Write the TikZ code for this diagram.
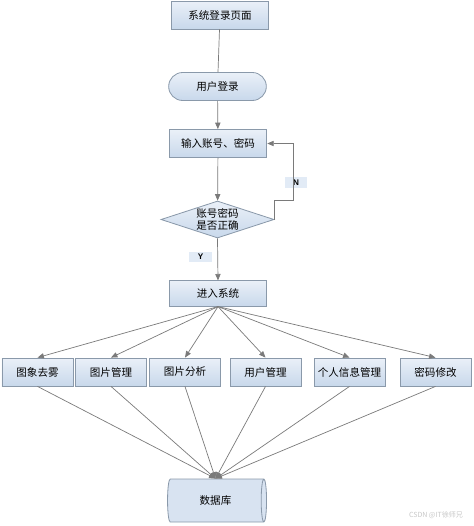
\documentclass[tikz,border=0pt]{standalone}
\usepackage{fontspec}
\setmainfont{Noto Sans CJK SC}
\newfontfamily\latinfont{Liberation Sans}
\usepackage{tikz}
\usetikzlibrary{arrows.meta,shapes.geometric,positioning}
\definecolor{boxline}{HTML}{8A99AA}
\definecolor{boxtop}{HTML}{EAF0F8}
\definecolor{boxbottom}{HTML}{C8D8EB}
\definecolor{boxmid}{HTML}{D8E3F1}
\definecolor{wire}{HTML}{7A7A7A}
\definecolor{tagfill}{HTML}{E2EBF6}

\begin{document}
\begin{tikzpicture}[x=0.03cm,y=0.03cm,>={Triangle[length=5.5pt,width=4.5pt]}]
\tikzstyle{every node}=[font=\fontsize{9}{11}\selectfont]
\tikzstyle{box}=[draw=boxline,line width=0.7pt,top color=boxtop,bottom color=boxbottom,
  minimum width=2.93cm,minimum height=0.84cm,inner sep=0pt]
\tikzstyle{smallbox}=[box,minimum width=2.13cm]
\tikzstyle{decision}=[diamond,draw=boxline,line width=0.7pt,top color=boxtop,bottom color=boxbottom,
  minimum width=3.39cm,minimum height=1.11cm,inner sep=0pt]
\tikzstyle{store}=[cylinder,shape border rotate=0,shape aspect=0.55,draw=boxline,line width=0.7pt,
  cylinder uses custom fill,cylinder body fill=boxmid,cylinder end fill=boxmid,
  minimum width=1.29cm,minimum height=2.97cm,inner sep=0pt]
\tikzstyle{tag}=[fill=tagfill,minimum width=0.68cm,minimum height=0.32cm,inner sep=0pt,
  font=\latinfont\bfseries\fontsize{7}{8}\selectfont]
\tikzstyle{wireline}=[draw=wire,line width=0.6pt]
\useasboundingbox (0,0) rectangle (474,-526);

\node[box] (loginpage) at (220,-15) {系统登录页面};
\node[box,rounded corners=0.42cm] (userlogin) at (217.5,-86.5) {用户登录};
\node[box] (input) at (218,-143.5) {输入账号、密码};
\node[decision] (check) at (217.5,-219.5) {};
\node[align=center,inner sep=0pt] (checktxt) at (217.5,-219.5) {账号密码\\[-1pt]是否正确};
\node[box,minimum height=0.76cm] (enter) at (218,-293.5) {进入系统};

\node[smallbox] (defog) at (37.5,-372) {图象去雾};
\node[smallbox] (picmgr) at (111,-372) {图片管理};
\node[smallbox] (picana) at (185,-372) {图片分析};
\node[smallbox] (usermgr) at (265.5,-372) {用户管理};
\node[smallbox] (infomgr) at (349.5,-372) {个人信息管理};
\node[smallbox] (pwdmod) at (435.5,-372) {密码修改};

\node[store] (db) at (215.5,-500.5) {数据库};

\coordinate (nturn) at (293,-200);
\node[tag] (ntag) at (296,-182.5) {N};
\node[tag] (ytag) at (200.5,-257) {Y};

\draw[wireline] (loginpage) -- (userlogin);
\draw[wireline,->] (userlogin) -- (input);
\draw[wireline,->] (input) -- (check);
\draw[wireline,->] (check.south) -- (enter.north);
\draw[wireline,->] (check.east) |- (nturn) |- (input.east);

\foreach \m in {defog,picmgr,picana,usermgr,infomgr,pwdmod}
  \draw[wireline,->] (enter.south) -- (\m.north);
\foreach \m in {defog,picmgr,picana,usermgr,infomgr,pwdmod}
  \draw[wireline,->] (\m.south) -- (db.north);

\node[text=black!22,font=\fontsize{6}{7}\selectfont] (mark) at (436,-515) {CSDN @IT徐师兄};
\end{tikzpicture}
\end{document}
